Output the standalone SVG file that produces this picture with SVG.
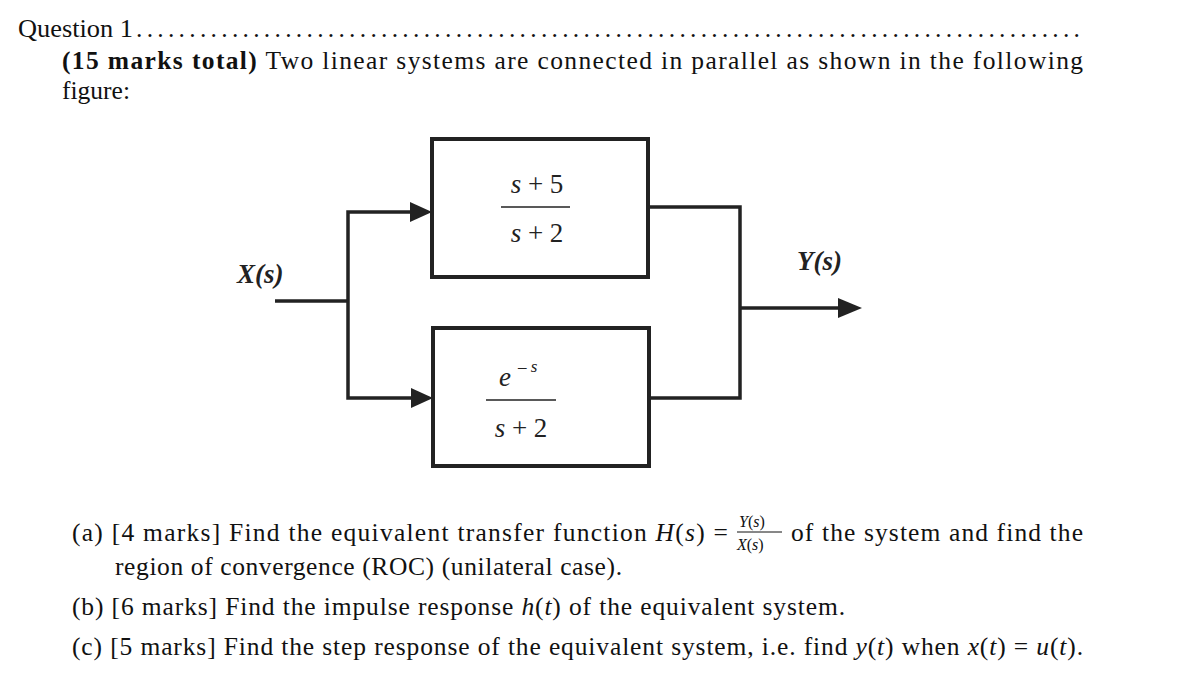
<svg xmlns="http://www.w3.org/2000/svg" width="1178" height="684" viewBox="0 0 1178 684">
<style>
.t{font-family:"Liberation Serif",serif;font-size:25.5px;fill:#111}
.d{font-family:"Liberation Serif",serif;font-size:27px;fill:#222}
.b{fill:none;stroke:#222;stroke-width:4}
.w{fill:none;stroke:#222;stroke-width:3.5}
</style>
<rect width="1178" height="684" fill="#fff"/>
<text class="t" x="18" y="37" textLength="115" lengthAdjust="spacingAndGlyphs">Question 1</text>
<text class="t" x="136" y="37" textLength="944" lengthAdjust="spacing">.........................................................................................</text>
<text class="t" x="62" y="69" textLength="1021" lengthAdjust="spacing"><tspan font-weight="bold">(15 marks total)</tspan> Two linear systems are connected in parallel as shown in the following</text>
<text class="t" x="62" y="99">figure:</text>
<g id="top"><rect class="b" x="432" y="139" width="216" height="138"/>
<text class="d" x="537" y="193" text-anchor="middle" font-style="italic">s<tspan font-style="normal"> + 5</tspan></text>
<line x1="501" y1="207" x2="570" y2="207" stroke="#222" stroke-width="1.5"/>
<text class="d" x="537" y="242" text-anchor="middle" font-style="italic">s<tspan font-style="normal"> + 2</tspan></text></g>
<g id="bottom"><rect class="b" x="433" y="328" width="216" height="138"/>
<text class="d" x="499" y="386" font-style="italic">e</text><text x="518" y="372" font-family="Liberation Serif,serif" font-size="17" fill="#222">– <tspan font-style="italic">s</tspan></text>
<line x1="486" y1="400" x2="556" y2="400" stroke="#222" stroke-width="1.5"/>
<text class="d" x="521" y="437" text-anchor="middle" font-style="italic">s<tspan font-style="normal"> + 2</tspan></text></g>
<g id="labels">
<text class="d" x="237" y="283" font-style="italic" font-weight="bold">X(s)</text>
<text class="d" x="797" y="270" font-style="italic" font-weight="bold">Y(s)</text></g>
<g id="connectors">
<line class="w" x1="275" y1="301" x2="348" y2="301"/>
<polyline class="w" points="413,212 348,212 348,398 413,398"/>
<path d="M410,202L432,212L410,222z" fill="#222"/>
<path d="M411,388L433,398L411,408z" fill="#222"/>
<polyline class="w" points="648,207 740,207 740,398 649,398"/>
<line class="w" x1="740" y1="308" x2="840" y2="308"/>
<path d="M838,298L862,308L838,318z" fill="#222"/>
</g>
<text class="t" x="72" y="541" textLength="656" lengthAdjust="spacing">(a)  [4 marks]  Find the equivalent transfer function <tspan font-style="italic">H</tspan>(<tspan font-style="italic">s</tspan>) =</text>
<text x="739" y="527" font-family="Liberation Serif,serif" font-size="16" fill="#111"><tspan font-style="italic">Y</tspan>(<tspan font-style="italic">s</tspan>)</text>
<line x1="737" y1="532" x2="782" y2="532" stroke="#111" stroke-width="1"/>
<text x="737" y="550" font-family="Liberation Serif,serif" font-size="16" fill="#111"><tspan font-style="italic">X</tspan>(<tspan font-style="italic">s</tspan>)</text>
<text class="t" x="791" y="541" textLength="292" lengthAdjust="spacing">of the system and find the</text>
<text class="t" x="115" y="575" textLength="507" lengthAdjust="spacing">region of convergence (ROC) (unilateral case).</text>
<text class="t" x="72" y="615" textLength="773" lengthAdjust="spacing">(b)  [6 marks]  Find the impulse response <tspan font-style="italic">h</tspan>(<tspan font-style="italic">t</tspan>) of the equivalent system.</text>
<text class="t" x="72" y="655" textLength="1011" lengthAdjust="spacing">(c)  [5 marks]  Find the step response of the equivalent system, i.e. find <tspan font-style="italic">y</tspan>(<tspan font-style="italic">t</tspan>) when <tspan font-style="italic">x</tspan>(<tspan font-style="italic">t</tspan>) = <tspan font-style="italic">u</tspan>(<tspan font-style="italic">t</tspan>).</text>
</svg>
